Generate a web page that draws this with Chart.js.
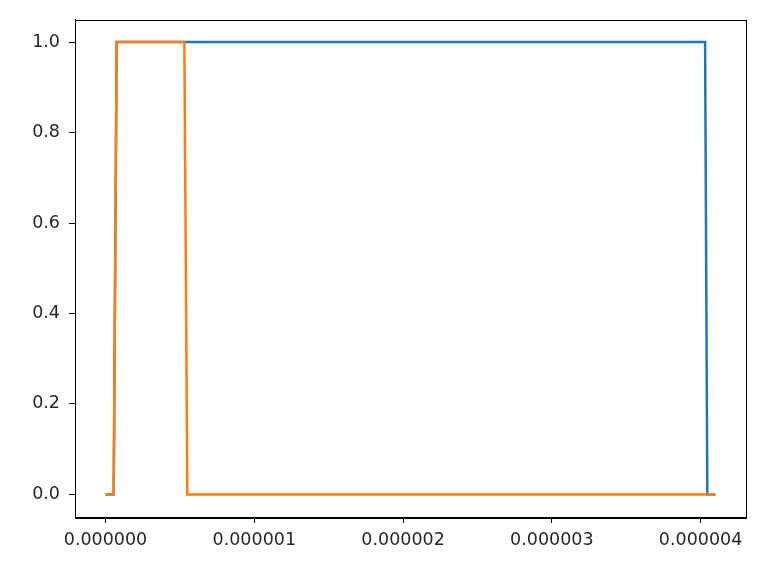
<!DOCTYPE html>
<html>
<head>
<meta charset="utf-8">
<script src="https://cdn.jsdelivr.net/npm/chart.js@4/dist/chart.umd.min.js"></script>
<style>
  body { margin: 0; background: #fff; }
  canvas { display: block; }
</style>
</head>
<body>
<canvas id="chart" width="772" height="561"></canvas>
<script>
// values (x in seconds)
const blueX = [0, 0.055e-6, 0.075e-6, 4.03e-6, 4.045e-6, 4.1e-6];
const blueY = [0, 0, 1, 1, 0, 0];
const orangeX = [0, 0.055e-6, 0.075e-6, 0.53e-6, 0.55e-6, 4.1e-6];
const orangeY = [0, 0, 1, 1, 0, 0];
const xTicks = [0, 1e-6, 2e-6, 3e-6, 4e-6];
const yTicks = [0, 0.2, 0.4, 0.6, 0.8, 1.0];

function toPoints(xs, ys) {
    return xs.map((x, i) => ({ x: x, y: ys[i] }));
}

// top and right spines
const frame = {
    id: 'frame',
    afterDraw(chart) {
        const a = chart.chartArea;
        const ctx = chart.ctx;
        ctx.save();
        ctx.strokeStyle = '#000';
        ctx.lineWidth = 1;
        ctx.strokeRect(Math.round(a.left) + 0.5, Math.round(a.top) + 0.5,
            Math.round(a.right - a.left), Math.round(a.bottom - a.top));
        ctx.restore();
    }
};

const font = { family: 'DejaVu Sans', size: 17.5 };

new Chart(document.getElementById('chart').getContext('2d'), {
    type: 'line',
    data: {
        // orange first so it is drawn on top of blue
        datasets: [{
            data: toPoints(orangeX, orangeY),
            borderColor: '#ff7f0e',
            borderWidth: 2.5,
            pointRadius: 0,
            tension: 0
        }, {
            data: toPoints(blueX, blueY),
            borderColor: '#1f77b4',
            borderWidth: 2.5,
            pointRadius: 0,
            tension: 0
        }]
    },
    options: {
        responsive: false,
        animation: false,
        layout: { padding: { top: 19, right: 26, left: 0, bottom: 0 } },
        plugins: { legend: { display: false }, tooltip: { enabled: false } },
        scales: {
            x: {
                type: 'linear',
                min: -0.205e-6,
                max: 4.305e-6,
                afterBuildTicks: s => { s.ticks = xTicks.map(v => ({ value: v })); },
                afterFit: s => { s.height = 44; },
                ticks: {
                    color: '#262626',
                    font: font,
                    padding: 7,
                    maxRotation: 0,
                    callback: v => v.toFixed(6)
                },
                grid: { drawOnChartArea: false, tickLength: 6, tickColor: '#000', tickWidth: 1 },
                border: { color: '#000', width: 1 }
            },
            y: {
                min: -0.05,
                max: 1.05,
                afterBuildTicks: s => { s.ticks = yTicks.map(v => ({ value: v })); },
                afterFit: s => { s.width = 75; },
                ticks: {
                    color: '#262626',
                    font: font,
                    padding: 9,
                    callback: v => v.toFixed(1)
                },
                grid: { drawOnChartArea: false, tickLength: 6, tickColor: '#000', tickWidth: 1 },
                border: { color: '#000', width: 1 }
            }
        }
    },
    plugins: [frame]
});
</script>
</body>
</html>
